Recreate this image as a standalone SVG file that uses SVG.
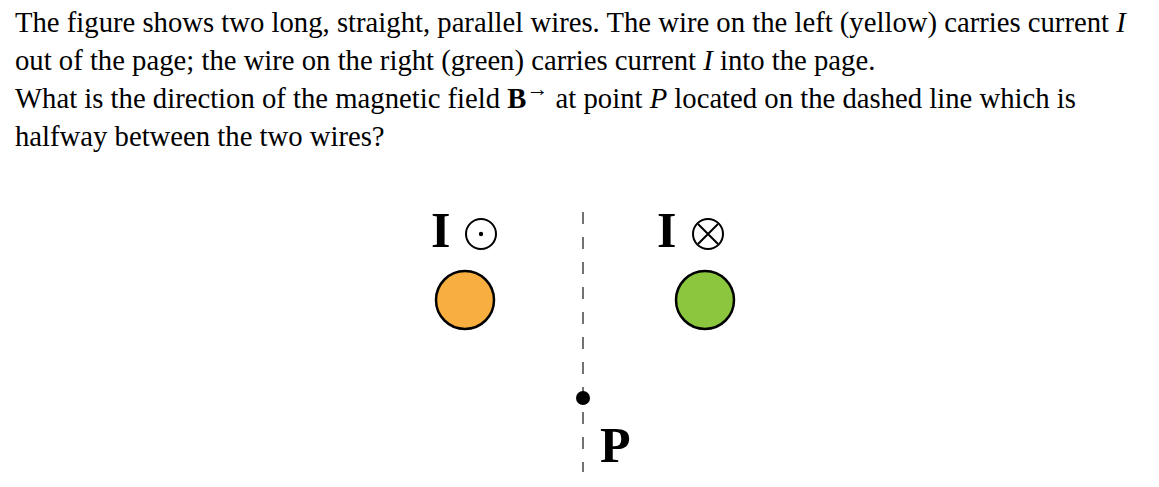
<svg xmlns="http://www.w3.org/2000/svg" width="1159" height="487" viewBox="0 0 1159 487">
<style>
.t{font-family:"Liberation Serif",serif;font-size:28.7px;fill:#000}
.big{font-family:"Liberation Serif",serif;font-size:50px;font-weight:bold;fill:#000}
.sym{fill:none;stroke:#000;stroke-width:2}
.wire{stroke:#000;stroke-width:2.5}
</style>
<rect width="1159" height="487" fill="#fff"/>
<text class="t" x="15" y="32">The figure shows two long, straight, parallel wires. The wire on the left (yellow) carries current <tspan font-style="italic">I</tspan></text>
<text class="t" x="15" y="70">out of the page; the wire on the right (green) carries current <tspan font-style="italic">I</tspan> into the page.</text>
<text class="t" x="15" y="108">What is the direction of the magnetic field <tspan font-weight="bold">B</tspan><tspan dy="-12" font-size="22">→</tspan><tspan dy="12"> at point </tspan><tspan font-style="italic">P</tspan> located on the dashed line which is</text>
<text class="t" x="15" y="146">halfway between the two wires?</text>
<g id="connectors">
<line x1="583" y1="212" x2="583" y2="472" stroke="#444" stroke-width="1.5" stroke-dasharray="12,13"/>
</g>
<g id="wire-left">
<text class="big" x="431" y="247">I</text>
<circle class="sym" cx="481" cy="234" r="15"/>
<circle cx="481" cy="234" r="2.2" fill="#000"/>
<circle class="wire" cx="465" cy="300" r="29" fill="#F9AF3F"/>
</g>
<g id="wire-right">
<text class="big" x="657" y="247">I</text>
<circle class="sym" cx="708" cy="234" r="15"/>
<path class="sym" d="M698 224L718 244M718 224L698 244"/>
<circle class="wire" cx="705" cy="300" r="29" fill="#8CC63F"/>
</g>
<g id="point-P">
<circle cx="583" cy="398" r="7" fill="#000"/>
<text class="big" x="600" y="462" font-size="44">P</text>
</g>
</svg>
